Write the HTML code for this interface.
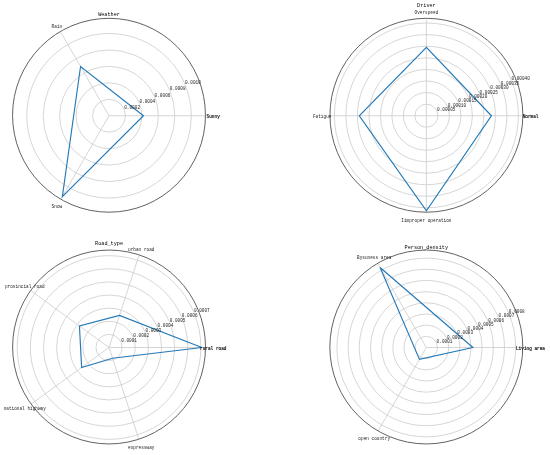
<!DOCTYPE html>
<html lang="en">
<head>
<meta charset="utf-8">
<title>Radar charts</title>
<style>
html,body{margin:0;padding:0;background:#fff;}
body{width:550px;height:455px;overflow:hidden;}
svg{display:block;}
text{font-family:"Liberation Mono","DejaVu Sans Mono",monospace;fill:#1c1c1c;}
.bd{stroke:#1c1c1c;stroke-width:0.22;}
.tk{font-size:5.2px;}
.tt{font-size:6.1px;fill:#000;}
.gr{fill:none;stroke:#cbcbcb;stroke-width:0.8;}
.sp{fill:none;stroke:#505050;stroke-width:0.9;}
.dl{fill:none;stroke:#2479b7;stroke-width:1.15;stroke-linejoin:miter;}
</style>
</head>
<body>
<svg width="550" height="455" viewBox="0 0 550 455">
<rect width="550" height="455" fill="#fff"/>
<g>
<circle class="gr" cx="109" cy="115.75" r="16.45"/>
<circle class="gr" cx="109" cy="115.75" r="32.9"/>
<circle class="gr" cx="109" cy="115.75" r="49.35"/>
<circle class="gr" cx="109" cy="115.75" r="65.8"/>
<circle class="gr" cx="109" cy="115.75" r="82.25"/>
<line class="gr" x1="109" y1="115.75" x2="205.45" y2="115.75"/>
<line class="gr" x1="109" y1="115.75" x2="60.78" y2="32.22"/>
<line class="gr" x1="109" y1="115.75" x2="60.77" y2="199.28"/>
<polygon class="dl" points="143.4,115.75 80.55,66.47 62.35,196.55"/>
<ellipse class="sp" cx="109" cy="115.25" rx="96.45" ry="96.95"/>
<text class="tk" x="124.2" y="109.25" textLength="15.84" lengthAdjust="spacingAndGlyphs">0.0002</text>
<text class="tk" x="139.4" y="102.96" textLength="15.84" lengthAdjust="spacingAndGlyphs">0.0004</text>
<text class="tk" x="154.59" y="96.66" textLength="15.84" lengthAdjust="spacingAndGlyphs">0.0006</text>
<text class="tk" x="169.79" y="90.37" textLength="15.84" lengthAdjust="spacingAndGlyphs">0.0008</text>
<text class="tk" x="184.99" y="84.07" textLength="15.84" lengthAdjust="spacingAndGlyphs">0.0010</text>
<text class="tk bd" x="206.6" y="117.85" textLength="13.2" lengthAdjust="spacingAndGlyphs">Sunny</text>
<text class="tk" x="51.62" y="27.61" textLength="10.56" lengthAdjust="spacingAndGlyphs">Rain</text>
<text class="tk" x="51.62" y="208.09" textLength="10.56" lengthAdjust="spacingAndGlyphs">Snow</text>
<text class="tt" x="98.15" y="16.4" textLength="21.7" lengthAdjust="spacingAndGlyphs">Weather</text>
</g>
<g>
<ellipse class="gr" cx="426.4" cy="115.7" rx="11.5" ry="11.55"/>
<ellipse class="gr" cx="426.4" cy="115.66" rx="23" ry="23.09"/>
<ellipse class="gr" cx="426.4" cy="115.61" rx="34.5" ry="34.64"/>
<ellipse class="gr" cx="426.4" cy="115.57" rx="46" ry="46.18"/>
<ellipse class="gr" cx="426.4" cy="115.52" rx="57.5" ry="57.73"/>
<ellipse class="gr" cx="426.4" cy="115.47" rx="69" ry="69.28"/>
<ellipse class="gr" cx="426.4" cy="115.43" rx="80.5" ry="80.82"/>
<ellipse class="gr" cx="426.4" cy="115.38" rx="92" ry="92.37"/>
<line class="gr" x1="426.4" y1="115.75" x2="522.85" y2="115.75"/>
<line class="gr" x1="426.4" y1="115.75" x2="426.4" y2="19.3"/>
<line class="gr" x1="426.4" y1="115.75" x2="329.95" y2="115.75"/>
<line class="gr" x1="426.4" y1="115.75" x2="426.4" y2="212.2"/>
<polygon class="dl" points="491.4,115.75 426.4,47.45 359.3,115.75 426.4,210.85"/>
<ellipse class="sp" cx="426.4" cy="115.25" rx="96.45" ry="96.95"/>
<text class="tk" x="437.02" y="111.15" textLength="18.48" lengthAdjust="spacingAndGlyphs">0.00005</text>
<text class="tk" x="447.65" y="106.75" textLength="18.48" lengthAdjust="spacingAndGlyphs">0.00010</text>
<text class="tk" x="458.27" y="102.35" textLength="18.48" lengthAdjust="spacingAndGlyphs">0.00015</text>
<text class="tk" x="468.9" y="97.95" textLength="18.48" lengthAdjust="spacingAndGlyphs">0.00020</text>
<text class="tk" x="479.52" y="93.55" textLength="18.48" lengthAdjust="spacingAndGlyphs">0.00025</text>
<text class="tk" x="490.15" y="89.14" textLength="18.48" lengthAdjust="spacingAndGlyphs">0.00030</text>
<text class="tk" x="500.77" y="84.74" textLength="18.48" lengthAdjust="spacingAndGlyphs">0.00035</text>
<text class="tk" x="511.4" y="80.34" textLength="18.48" lengthAdjust="spacingAndGlyphs">0.00040</text>
<text class="tk bd" x="522.68" y="117.85" textLength="15.84" lengthAdjust="spacingAndGlyphs">Normal</text>
<text class="tk" x="414.52" y="13.65" textLength="23.76" lengthAdjust="spacingAndGlyphs">Overspeed</text>
<text class="tk" x="312.96" y="117.85" textLength="18.48" lengthAdjust="spacingAndGlyphs">Fatigue</text>
<text class="tk" x="401.32" y="222.05" textLength="50.16" lengthAdjust="spacingAndGlyphs">Iimproper operation</text>
<text class="tt" x="417.1" y="7" textLength="18.6" lengthAdjust="spacingAndGlyphs">Driver</text>
</g>
<g>
<circle class="gr" cx="109.05" cy="347.5" r="13.12"/>
<circle class="gr" cx="109.05" cy="347.5" r="26.24"/>
<circle class="gr" cx="109.05" cy="347.5" r="39.36"/>
<circle class="gr" cx="109.05" cy="347.5" r="52.48"/>
<circle class="gr" cx="109.05" cy="347.5" r="65.6"/>
<circle class="gr" cx="109.05" cy="347.5" r="78.72"/>
<circle class="gr" cx="109.05" cy="347.5" r="91.84"/>
<line class="gr" x1="109.05" y1="347.5" x2="205.5" y2="347.5"/>
<line class="gr" x1="109.05" y1="347.5" x2="138.85" y2="255.77"/>
<line class="gr" x1="109.05" y1="347.5" x2="31.02" y2="290.81"/>
<line class="gr" x1="109.05" y1="347.5" x2="31.02" y2="404.19"/>
<line class="gr" x1="109.05" y1="347.5" x2="138.85" y2="439.23"/>
<polygon class="dl" points="201.85,347.5 119.46,315.45 79.44,325.99 81.62,367.43 112.54,358.25"/>
<ellipse class="sp" cx="109.05" cy="347" rx="96.45" ry="96.95"/>
<text class="tk" x="121.17" y="342.28" textLength="15.84" lengthAdjust="spacingAndGlyphs">0.0001</text>
<text class="tk" x="133.29" y="337.26" textLength="15.84" lengthAdjust="spacingAndGlyphs">0.0002</text>
<text class="tk" x="145.41" y="332.24" textLength="15.84" lengthAdjust="spacingAndGlyphs">0.0003</text>
<text class="tk" x="157.54" y="327.22" textLength="15.84" lengthAdjust="spacingAndGlyphs">0.0004</text>
<text class="tk" x="169.66" y="322.2" textLength="15.84" lengthAdjust="spacingAndGlyphs">0.0005</text>
<text class="tk" x="181.78" y="317.18" textLength="15.84" lengthAdjust="spacingAndGlyphs">0.0006</text>
<text class="tk" x="193.9" y="312.15" textLength="15.84" lengthAdjust="spacingAndGlyphs">0.0007</text>
<text class="tk bd" x="200.05" y="349.6" textLength="26.4" lengthAdjust="spacingAndGlyphs">rural road</text>
<text class="tk" x="128.05" y="250.7" textLength="26.4" lengthAdjust="spacingAndGlyphs">urban road</text>
<text class="tk" x="4.95" y="287.75" textLength="39.6" lengthAdjust="spacingAndGlyphs">provincial road</text>
<text class="tk" x="3.63" y="410.25" textLength="42.24" lengthAdjust="spacingAndGlyphs">national highway</text>
<text class="tk" x="128.05" y="449" textLength="26.4" lengthAdjust="spacingAndGlyphs">expressway</text>
<text class="tt" x="95.1" y="244.6" textLength="27.9" lengthAdjust="spacingAndGlyphs">Road_type</text>
</g>
<g>
<circle class="gr" cx="426.3" cy="347.5" r="11.17"/>
<circle class="gr" cx="426.3" cy="347.5" r="22.34"/>
<circle class="gr" cx="426.3" cy="347.5" r="33.51"/>
<circle class="gr" cx="426.3" cy="347.5" r="44.68"/>
<circle class="gr" cx="426.3" cy="347.5" r="55.85"/>
<circle class="gr" cx="426.3" cy="347.5" r="67.02"/>
<circle class="gr" cx="426.3" cy="347.5" r="78.19"/>
<circle class="gr" cx="426.3" cy="347.5" r="89.36"/>
<line class="gr" x1="426.3" y1="347.5" x2="522.75" y2="347.5"/>
<line class="gr" x1="426.3" y1="347.5" x2="378.08" y2="263.97"/>
<line class="gr" x1="426.3" y1="347.5" x2="378.07" y2="431.03"/>
<polygon class="dl" points="472.9,347.5 380.1,267.48 419.45,359.36"/>
<ellipse class="sp" cx="426.3" cy="347" rx="96.45" ry="96.95"/>
<text class="tk" x="436.62" y="343.03" textLength="15.84" lengthAdjust="spacingAndGlyphs">0.0001</text>
<text class="tk" x="446.94" y="338.75" textLength="15.84" lengthAdjust="spacingAndGlyphs">0.0002</text>
<text class="tk" x="457.26" y="334.48" textLength="15.84" lengthAdjust="spacingAndGlyphs">0.0003</text>
<text class="tk" x="467.58" y="330.2" textLength="15.84" lengthAdjust="spacingAndGlyphs">0.0004</text>
<text class="tk" x="477.9" y="325.93" textLength="15.84" lengthAdjust="spacingAndGlyphs">0.0005</text>
<text class="tk" x="488.22" y="321.65" textLength="15.84" lengthAdjust="spacingAndGlyphs">0.0006</text>
<text class="tk" x="498.54" y="317.38" textLength="15.84" lengthAdjust="spacingAndGlyphs">0.0007</text>
<text class="tk" x="508.86" y="313.1" textLength="15.84" lengthAdjust="spacingAndGlyphs">0.0008</text>
<text class="tk bd" x="515.98" y="349.6" textLength="29.04" lengthAdjust="spacingAndGlyphs">Living area</text>
<text class="tk" x="357.04" y="259.36" textLength="34.32" lengthAdjust="spacingAndGlyphs">Bysuness area</text>
<text class="tk" x="358.36" y="439.84" textLength="31.68" lengthAdjust="spacingAndGlyphs">open country</text>
<text class="tt" x="404.6" y="249.1" textLength="43.4" lengthAdjust="spacingAndGlyphs">Person_density</text>
</g>
</svg>
</body>
</html>
